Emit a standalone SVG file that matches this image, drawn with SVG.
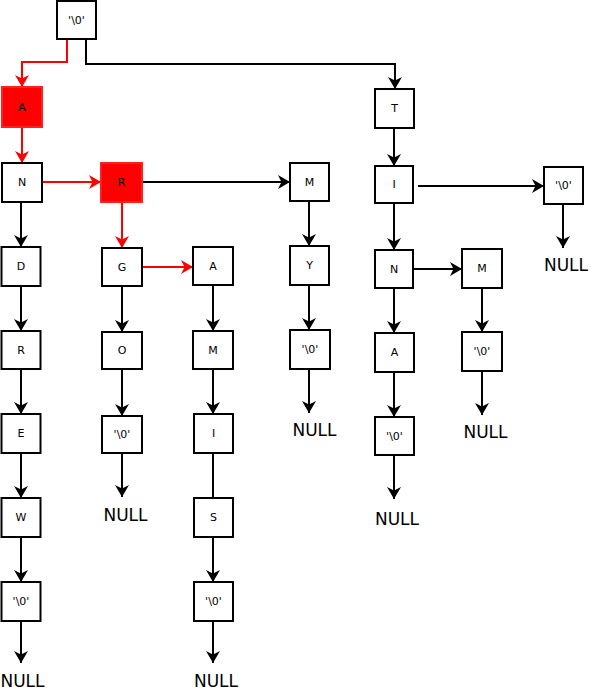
<svg xmlns="http://www.w3.org/2000/svg" width="591" height="691" viewBox="0 0 591 691">
<style>
  .box { fill: #ffffff; stroke: #000000; stroke-width: 2; }
  .red { fill: #ff0000; stroke: #ff2020; stroke-width: 2; }
  .lbl { font-family: "DejaVu Sans", sans-serif; font-size: 11px; text-anchor: middle; fill: #000000; }
  .null { font-family: "DejaVu Sans", sans-serif; font-size: 17px; text-anchor: middle; fill: #000000; }
  .c { fill: none; stroke: #000000; stroke-width: 2; }
  .cr { fill: none; stroke: #ff0000; stroke-width: 2; }
</style>
<defs>
  <marker id="ab" viewBox="0 0 12 14" refX="12" refY="7" markerWidth="12" markerHeight="14" markerUnits="userSpaceOnUse" orient="auto">
    <path d="M0,0 L12,7 L0,14 L3.5,7 z" fill="#000000"/>
  </marker>
  <marker id="ar" viewBox="0 0 12 14" refX="12" refY="7" markerWidth="12" markerHeight="14" markerUnits="userSpaceOnUse" orient="auto">
    <path d="M0,0 L12,7 L0,14 L3.5,7 z" fill="#ff0000"/>
  </marker>
</defs>
<rect x="0" y="0" width="591" height="691" fill="#ffffff"/>
<g id="connectors">
  <path class="cr" d="M67,39 V62 H22 V87" marker-end="url(#ar)"/>
  <path class="c" d="M86,39 V64 H395 V89" marker-end="url(#ab)"/>
  <path class="cr" d="M22,127 V163" marker-end="url(#ar)"/>
  <path class="cr" d="M42,182 H101" marker-end="url(#ar)"/>
  <path class="cr" d="M122,202 V248" marker-end="url(#ar)"/>
  <path class="cr" d="M142,267 H193" marker-end="url(#ar)"/>
  <path class="c" d="M142,182 H290" marker-end="url(#ab)"/>
  <path class="c" d="M309,201 V246" marker-end="url(#ab)"/>
  <path class="c" d="M309,285 V330" marker-end="url(#ab)"/>
  <path class="c" d="M309,369 V413" marker-end="url(#ab)"/>
  <path class="c" d="M394,128 V166" marker-end="url(#ab)"/>
  <path class="c" d="M418,186 H544" marker-end="url(#ab)"/>
  <path class="c" d="M563,204 V248" marker-end="url(#ab)"/>
  <path class="c" d="M394,203 V250" marker-end="url(#ab)"/>
  <path class="c" d="M413,269 H462" marker-end="url(#ab)"/>
  <path class="c" d="M394,288 V333" marker-end="url(#ab)"/>
  <path class="c" d="M394,372 V417" marker-end="url(#ab)"/>
  <path class="c" d="M394,455 V499" marker-end="url(#ab)"/>
  <path class="c" d="M482,288 V332" marker-end="url(#ab)"/>
  <path class="c" d="M482,371 V415" marker-end="url(#ab)"/>
  <path class="c" d="M21,202 V247" marker-end="url(#ab)"/>
  <path class="c" d="M21,286 V331" marker-end="url(#ab)"/>
  <path class="c" d="M21,369 V414" marker-end="url(#ab)"/>
  <path class="c" d="M21,453 V498" marker-end="url(#ab)"/>
  <path class="c" d="M21,537 V582" marker-end="url(#ab)"/>
  <path class="c" d="M21,621 V663" marker-end="url(#ab)"/>
  <path class="c" d="M122,286 V332" marker-end="url(#ab)"/>
  <path class="c" d="M122,369 V416" marker-end="url(#ab)"/>
  <path class="c" d="M122,453 V497" marker-end="url(#ab)"/>
  <path class="c" d="M213,285 V331" marker-end="url(#ab)"/>
  <path class="c" d="M213,369 V414" marker-end="url(#ab)"/>
  <path class="c" d="M213,453 V498"/>
  <path class="c" d="M213,537 V582" marker-end="url(#ab)"/>
  <path class="c" d="M213,621 V663" marker-end="url(#ab)"/>
</g>
<g id="n-root"><rect class="box" x="57" y="1" width="39" height="38"/><text class="lbl" x="76.5" y="20" dy="0.35em">'\0'</text></g>
<g id="n-A1"><rect class="red" x="2" y="87" width="40" height="40"/><text class="lbl" x="22" y="107" dy="0.35em">A</text></g>
<g id="n-N1"><rect class="box" x="2" y="163" width="40" height="39"/><text class="lbl" x="22" y="182.5" dy="0.35em">N</text></g>
<g id="n-R1"><rect class="red" x="101" y="163" width="41" height="39"/><text class="lbl" x="121.5" y="182.5" dy="0.35em">R</text></g>
<g id="n-M1"><rect class="box" x="290" y="163" width="39" height="38"/><text class="lbl" x="309.5" y="182" dy="0.35em">M</text></g>
<g id="n-T"><rect class="box" x="375" y="89" width="39" height="39"/><text class="lbl" x="394.5" y="108.5" dy="0.35em">T</text></g>
<g id="n-I1"><rect class="box" x="375" y="166" width="38" height="37"/><text class="lbl" x="394" y="184.5" dy="0.35em">I</text></g>
<g id="n-Z7"><rect class="box" x="544" y="167" width="39" height="37"/><text class="lbl" x="563.5" y="185.5" dy="0.35em">'\0'</text></g>
<g id="n-D"><rect class="box" x="1.5" y="247" width="39" height="39"/><text class="lbl" x="21" y="266.5" dy="0.35em">D</text></g>
<g id="n-G"><rect class="box" x="102" y="248" width="40" height="38"/><text class="lbl" x="122" y="267" dy="0.35em">G</text></g>
<g id="n-A3"><rect class="box" x="193" y="247" width="40" height="38"/><text class="lbl" x="213" y="266" dy="0.35em">A</text></g>
<g id="n-Y"><rect class="box" x="290" y="246" width="39" height="39"/><text class="lbl" x="309.5" y="265.5" dy="0.35em">Y</text></g>
<g id="n-N5"><rect class="box" x="375" y="250" width="38" height="38"/><text class="lbl" x="394" y="269" dy="0.35em">N</text></g>
<g id="n-M6"><rect class="box" x="462" y="249" width="40" height="39"/><text class="lbl" x="482" y="268.5" dy="0.35em">M</text></g>
<g id="n-R2"><rect class="box" x="1.5" y="331" width="39" height="38"/><text class="lbl" x="21" y="350" dy="0.35em">R</text></g>
<g id="n-O"><rect class="box" x="102" y="332" width="40" height="37"/><text class="lbl" x="122" y="350.5" dy="0.35em">O</text></g>
<g id="n-M3"><rect class="box" x="193" y="331" width="40" height="38"/><text class="lbl" x="213" y="350" dy="0.35em">M</text></g>
<g id="n-Z4"><rect class="box" x="290" y="330" width="40" height="39"/><text class="lbl" x="310" y="349.5" dy="0.35em">'\0'</text></g>
<g id="n-A5"><rect class="box" x="375" y="333" width="39" height="39"/><text class="lbl" x="394.5" y="352.5" dy="0.35em">A</text></g>
<g id="n-Z6"><rect class="box" x="462" y="332" width="40" height="39"/><text class="lbl" x="482" y="351.5" dy="0.35em">'\0'</text></g>
<g id="n-E"><rect class="box" x="1.5" y="414" width="39" height="39"/><text class="lbl" x="21" y="433.5" dy="0.35em">E</text></g>
<g id="n-Z2"><rect class="box" x="102" y="416" width="40" height="37"/><text class="lbl" x="122" y="434.5" dy="0.35em">'\0'</text></g>
<g id="n-I3"><rect class="box" x="194" y="414" width="39" height="39"/><text class="lbl" x="213.5" y="433.5" dy="0.35em">I</text></g>
<g id="n-Z5"><rect class="box" x="375" y="417" width="39" height="38"/><text class="lbl" x="394.5" y="436" dy="0.35em">'\0'</text></g>
<g id="n-W"><rect class="box" x="1.5" y="498" width="39" height="39"/><text class="lbl" x="21" y="517.5" dy="0.35em">W</text></g>
<g id="n-S"><rect class="box" x="194" y="498" width="39" height="39"/><text class="lbl" x="213.5" y="517.5" dy="0.35em">S</text></g>
<g id="n-Z1"><rect class="box" x="1.5" y="582" width="39" height="39"/><text class="lbl" x="21" y="601.5" dy="0.35em">'\0'</text></g>
<g id="n-Z3"><rect class="box" x="194" y="582" width="39" height="39"/><text class="lbl" x="213.5" y="601.5" dy="0.35em">'\0'</text></g>
<g id="nulls">
  <text class="null" x="22.5" y="687">NULL</text>
  <text class="null" x="125.5" y="521">NULL</text>
  <text class="null" x="216" y="687">NULL</text>
  <text class="null" x="314.5" y="436">NULL</text>
  <text class="null" x="397" y="525">NULL</text>
  <text class="null" x="485.5" y="438">NULL</text>
  <text class="null" x="566" y="271">NULL</text>
</g>
</svg>
